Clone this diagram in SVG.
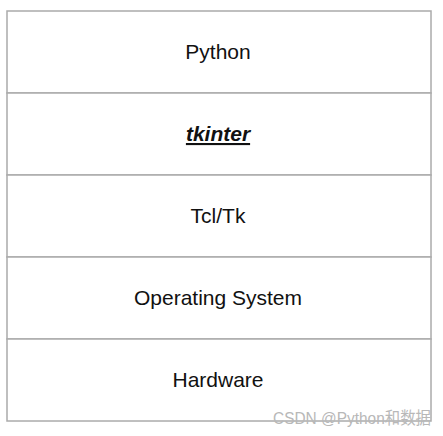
<svg xmlns="http://www.w3.org/2000/svg" width="443" height="436" viewBox="0 0 443 436">
<style>
.box{fill:#fff;stroke:#ababab;stroke-width:1.5}
.lbl{font-family:"Liberation Sans",Arial,sans-serif;font-size:21px;fill:#111;text-anchor:middle}
.em{font-weight:bold;font-style:italic;text-decoration:underline}
.wm{font-family:"Liberation Sans","Noto Sans CJK SC",sans-serif;font-size:17px;fill:#b8b8b8}
</style>
<rect width="443" height="436" fill="#fff"/>
<g id="python"><rect class="box" x="7" y="11" width="424" height="82"/><text class="lbl" x="218" y="59">Python</text></g>
<g id="tkinter"><rect class="box" x="7" y="93" width="424" height="82"/><text class="lbl em" x="218" y="141">tkinter</text></g>
<g id="tcltk"><rect class="box" x="7" y="175" width="424" height="82"/><text class="lbl" x="218" y="223">Tcl/Tk</text></g>
<g id="os"><rect class="box" x="7" y="257" width="424" height="82"/><text class="lbl" x="218" y="305">Operating System</text></g>
<g id="hardware"><rect class="box" x="7" y="339" width="424" height="82"/><text class="lbl" x="218" y="387">Hardware</text></g>
<g id="connectors"></g>
<text class="wm" x="273" y="424" textLength="158" lengthAdjust="spacingAndGlyphs">CSDN @Python和数据</text>
</svg>
